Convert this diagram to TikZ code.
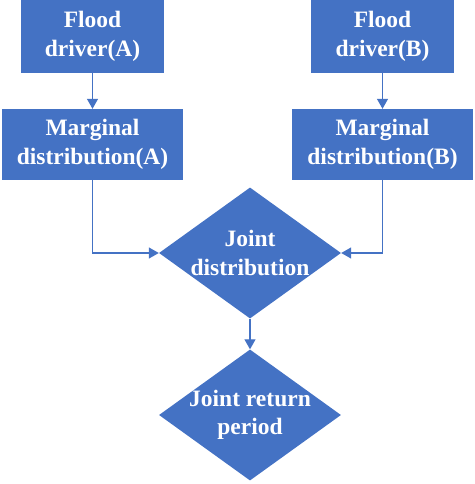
\documentclass[tikz,border=0pt]{standalone}
\usepackage{fontspec}
\setmainfont{Liberation Serif}
\usetikzlibrary{shapes.geometric,arrows.meta}
\definecolor{boxblue}{HTML}{4472C4}
\tikzset{
  box/.style={draw=none, fill=boxblue, text=white, font=\fontsize{23.5}{28.5}\selectfont\bfseries, align=center, inner sep=0pt},
  dia/.style={shape=diamond, draw=none, fill=boxblue, text=white, font=\fontsize{23.5}{28.5}\selectfont\bfseries, align=center, inner sep=-5pt, aspect=1.72, minimum width=182pt, minimum height=131pt},
  conn/.style={draw=boxblue, line width=1.3pt, -{Triangle[width=11pt,length=10pt]}}
}
\begin{document}
\begin{tikzpicture}[x=1pt,y=-1pt]
\useasboundingbox (0,0) rectangle (474,484);
\node[box, minimum width=143pt, minimum height=73pt] (fa) at (92.5,36.5) {Flood\\driver(A)};
\node[box, minimum width=143pt, minimum height=73pt] (fb) at (382.5,36.5) {Flood\\driver(B)};
\node[box, minimum width=181pt, minimum height=71pt] (ma) at (92.5,144.5) {Marginal\\distribution(A)};
\node[box, minimum width=181pt, minimum height=71pt] (mb) at (382.5,144.5) {Marginal\\distribution(B)};
\node[dia] (jd) at (250,253) {Joint\\distribution};
\node[dia] (jr) at (250,415) {Joint return\\period};
\draw[conn] (fa) -- (ma);
\draw[conn] (fb) -- (mb);
\draw[conn] (ma.south) |- (jd.west);
\draw[conn] (mb.south) |- (jd.east);
\draw[conn] (jd) -- (jr);
\end{tikzpicture}
\end{document}
